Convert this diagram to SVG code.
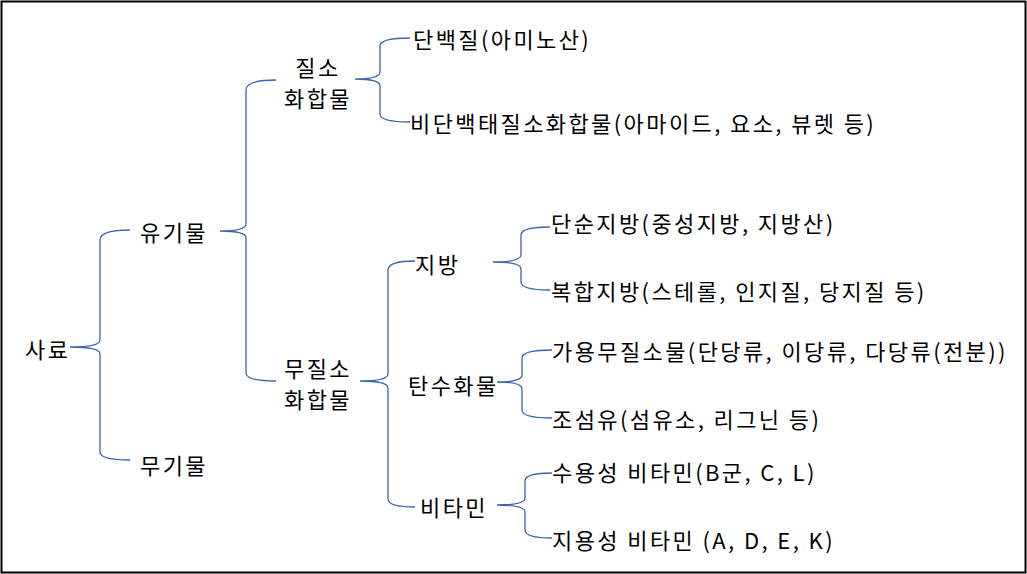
<svg xmlns="http://www.w3.org/2000/svg" width="1027" height="574" viewBox="0 0 1027 574">
<style>
text{font-family:"Noto Sans CJK KR","Noto Sans",sans-serif;font-size:22px;letter-spacing:2.4px;fill:#000;dominant-baseline:central}
.b{fill:none;stroke:#3B64AD;stroke-width:1.3}
</style>
<rect x="0" y="0" width="1027" height="574" fill="#fff"/>
<rect x="1.5" y="1.5" width="1024" height="571" fill="none" stroke="#000" stroke-width="2"/>
<g id="connectors">
<path class="b" d="M130,230 Q100,230 100,240 L100,340 Q100,347 70,347 Q100,347 100,354 L100,452 Q100,460 130,460"/>
<path class="b" d="M276,80 Q246,80 246,90 L246,224 Q246,231 220,231 Q246,231 246,238 L246,373 Q246,381 276,381"/>
<path class="b" d="M410,38 Q380,38 380,46 L380,72 Q380,79 355,79 Q380,79 380,86 L380,114 Q380,122 410,122"/>
<path class="b" d="M415,261 Q388,261 388,270 L388,374 Q388,381 360,381 Q388,381 388,388 L388,499 Q388,507 415,507"/>
<path class="b" d="M550,227 Q521,227 521,235 L521,255 Q521,262 493,262 Q521,262 521,269 L521,282 Q521,290 550,290"/>
<path class="b" d="M552,350 Q522,350 522,358 L522,375 Q522,382 497,382 Q522,382 522,389 L522,410 Q522,418 552,418"/>
<path class="b" d="M552,473 Q525,473 525,481 L525,498 Q525,505 497,505 Q525,505 525,512 L525,530 Q525,538 552,538"/>
</g>
<g id="n0"><text x="25" y="348">사료</text></g>
<g id="n1"><text x="140" y="231">유기물</text></g>
<g id="n2"><text x="140" y="464">무기물</text></g>
<g id="n3"><text x="318" y="66" text-anchor="middle">질소</text><text x="318" y="97" text-anchor="middle">화합물</text></g>
<g id="n4"><text x="318" y="367" text-anchor="middle">무질소</text><text x="318" y="398" text-anchor="middle">화합물</text></g>
<g id="n5"><text x="413" y="38">단백질(아미노산)</text></g>
<g id="n6"><text x="410" y="122">비단백태질소화합물(아마이드, 요소, 뷰렛 등)</text></g>
<g id="n7"><text x="415" y="263">지방</text></g>
<g id="n8"><text x="408" y="384">탄수화물</text></g>
<g id="n9"><text x="420" y="506">비타민</text></g>
<g id="n10"><text x="551" y="222">단순지방(중성지방, 지방산)</text></g>
<g id="n11"><text x="551" y="290">복합지방(스테롤, 인지질, 당지질 등)</text></g>
<g id="n12"><text x="552" y="350">가용무질소물(단당류, 이당류, 다당류(전분))</text></g>
<g id="n13"><text x="552" y="418">조섬유(섬유소, 리그닌 등)</text></g>
<g id="n14"><text x="552" y="471">수용성 비타민(B군, C, L)</text></g>
<g id="n15"><text x="552" y="539">지용성 비타민 (A, D, E, K)</text></g>
</svg>
